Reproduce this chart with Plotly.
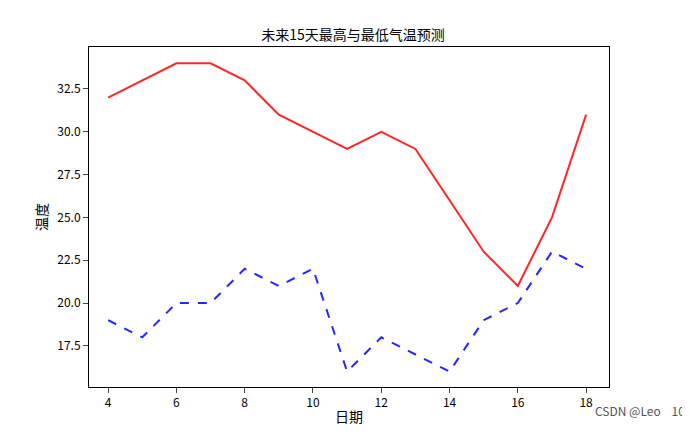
import plotly.graph_objects as go

days = list(range(4, 19))
high = [32, 33, 34, 34, 33, 31, 30, 29, 30, 29, 26, 23, 21, 25, 31]
low = [19, 18, 20, 20, 22, 21, 22, 16, 18, 17, 16, 19, 20, 23, 22]
yticks = [17.5, 20.0, 22.5, 25.0, 27.5, 30.0, 32.5]

font = "Noto Sans CJK SC"
fig = go.Figure()
fig.add_trace(go.Scatter(x=days, y=high, mode="lines", line=dict(color="rgba(255,0,0,0.85)", width=2)))
fig.add_trace(go.Scatter(x=days, y=low, mode="lines", line=dict(color="rgba(0,0,255,0.85)", width=2, dash="dash")))
fig.update_layout(
    width=690, height=440, showlegend=False,
    paper_bgcolor="white", plot_bgcolor="white",
    margin=dict(l=81, r=89, t=39, b=61),
    font=dict(family=font, size=12, color="black"),
    title=dict(text="未来15天最高与最低气温预测", x=0.5, xanchor="center", y=0.95, font=dict(size=14)),
    annotations=[dict(text="CSDN @Leo    10", xref="paper", yref="paper", x=1.15, y=-0.1,
                      showarrow=False, xanchor="right", font=dict(size=12, color="#555"))],
)
fig.update_xaxes(range=[3.44, 18.67], tickvals=list(range(4, 19, 2)), showline=True, mirror=True,
                 linecolor="black", ticks="outside", showgrid=False, zeroline=False,
                 title=dict(text="日期", standoff=2))
fig.update_yaxes(range=[15.1, 34.95], tickvals=yticks, ticktext=[f"{v:.1f}" for v in yticks],
                 showline=True, mirror=True, linecolor="black", ticks="outside", showgrid=False,
                 zeroline=False, title=dict(text="温度", standoff=6))
fig.write_html("out.html")
